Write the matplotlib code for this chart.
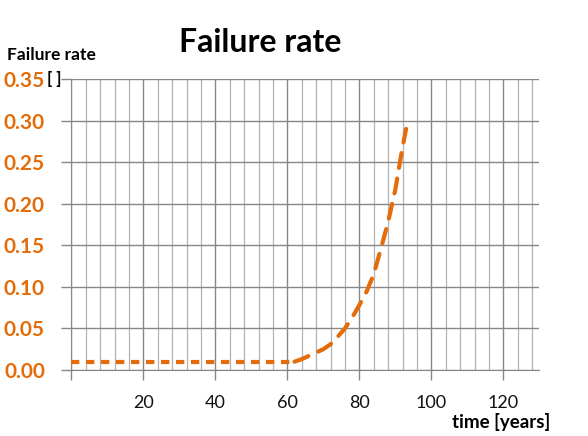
import numpy as np
import matplotlib.pyplot as plt
from matplotlib.ticker import MultipleLocator, FixedLocator

plt.rcParams['font.family'] = ['Lato', 'DejaVu Sans']

# flat (useful life) part
flat_years = [0, 62]
flat_rate = [0.01, 0.01]

# wear-out part
wear_years = [62, 64, 66, 68, 70, 72, 74, 76, 78, 80, 82, 84, 86, 88, 90, 92, 93]
wear_rate = [0.010, 0.013, 0.017, 0.021, 0.025, 0.031, 0.040, 0.050, 0.063,
             0.078, 0.094, 0.115, 0.146, 0.178, 0.217, 0.268, 0.290]

x_ticks = [20, 40, 60, 80, 100, 120]
y_ticks = [0.00, 0.05, 0.10, 0.15, 0.20, 0.25, 0.30, 0.35]

orange = '#E46C0A'

fig = plt.figure(figsize=(5.88, 4.36), dpi=100)
ax = fig.add_axes([71.3 / 588, 1 - 370 / 436, 468 / 588, (370 - 79) / 436])

ax.plot(flat_years, flat_rate, color=orange, lw=3, dashes=(2, 1.6),
        solid_capstyle='butt', dash_capstyle='butt', zorder=3)
ax.plot(wear_years, wear_rate, color=orange, lw=3, dashes=(3.6, 2.6),
        dash_capstyle='round', zorder=3)

ax.set_xlim(0, 130)
ax.set_ylim(0, 0.35)

ax.xaxis.set_major_locator(FixedLocator([0] + x_ticks))
ax.xaxis.set_minor_locator(MultipleLocator(4))
ax.set_xticklabels([''] + [str(t) for t in x_ticks])
ax.set_yticks(y_ticks)
ax.set_yticklabels([f'{t:.2f}' for t in y_ticks])

ax.grid(which='minor', axis='x', color='#b3b3b3', lw=0.9)
ax.grid(which='major', axis='x', color='#878787', lw=1.0)
ax.grid(which='major', axis='y', color='#878787', lw=1.0)
ax.set_axisbelow(True)

for s in ax.spines.values():
    s.set_visible(False)
ax.spines['bottom'].set_visible(True)
ax.spines['bottom'].set_color('#878787')
ax.spines['left'].set_visible(True)
ax.spines['left'].set_color('#878787')

ax.tick_params(axis='x', which='major', length=7, color='#878787', width=1,
               labelsize=13, pad=11, labelcolor='#111111')
ax.tick_params(axis='x', which='minor', length=0)
ax.tick_params(axis='y', which='major', length=7, color='#878787', width=1,
               labelsize=15, pad=12, labelcolor=orange)
for lbl in ax.get_yticklabels():
    lbl.set_fontweight('bold')

fig.text(260 / 588, 1 - 52 / 436, 'Failure rate', fontsize=23, fontweight='bold',
         ha='center', va='baseline')
fig.text(7 / 588, 1 - 60 / 436, 'Failure rate', fontsize=12.5, fontweight='bold',
         ha='left', va='baseline')
fig.text(47 / 588, 1 - 79 / 436, '[ ]', fontsize=12, fontweight='bold',
         ha='left', va='center')
fig.text(550 / 588, 1 - 428 / 436, 'time [years]', fontsize=13.5, fontweight='bold',
         ha='right', va='baseline')

fig.savefig('out.png', dpi=100)
